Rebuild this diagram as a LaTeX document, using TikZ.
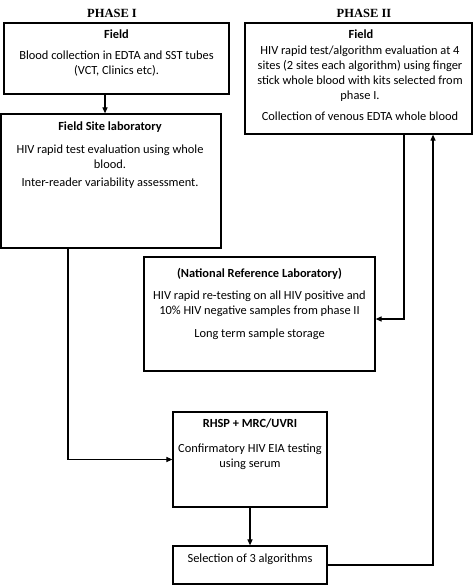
\documentclass[tikz,border=0pt]{standalone}
\usepackage{fontspec}
\setmainfont{Carlito}
\newfontfamily\titlefont{Liberation Serif}
\usetikzlibrary{arrows.meta}
\begin{document}
\begin{tikzpicture}[x=1pt,y=-1pt,
 box/.style={draw, line width=1.2pt, inner sep=0pt, rectangle},
 txt/.style={anchor=base, inner sep=0pt, font=\fontsize{12.4}{15}\selectfont},
 ttl/.style={anchor=base, inner sep=0pt, font=\fontsize{12.4}{15}\selectfont\bfseries},
 phase/.style={anchor=base, inner sep=0pt, font=\titlefont\fontsize{12.5}{15}\selectfont\bfseries},
 conn/.style={line width=1.1pt},
 arr/.style={conn, -{Triangle[length=6pt,width=5pt]}}]
\useasboundingbox (0,0) rectangle (473,585);

\node[phase] (p1) at (112,18) {PHASE I};
\node[phase] (p2) at (364,18) {PHASE II};

% Phase I field
\node[box, minimum width=225pt, minimum height=71pt] (b1) at (116.5,58.5) {};
\node[ttl] (b1t) at (116.5,39) {Field};
\node[txt] (b1a) at (116.5,60) {Blood collection in EDTA and SST tubes};
\node[txt] (b1b) at (116.5,75) {(VCT, Clinics etc).};

% Field site lab
\node[box, minimum width=220pt, minimum height=134pt] (b2) at (111,181) {};
\node[ttl] (b2t) at (110,131) {Field Site laboratory};
\node[txt] (b2a) at (110,154) {HIV rapid test evaluation using whole};
\node[txt] (b2b) at (110,169) {blood.};
\node[txt] (b2c) at (110,186) {Inter-reader variability assessment.};

% Phase II field
\node[box, minimum width=227pt, minimum height=111pt] (b3) at (358.5,78.5) {};
\node[ttl] (b3t) at (361,39) {Field};
\node[txt] (b3a) at (360,55) {HIV rapid test/algorithm evaluation at 4};
\node[txt] (b3b) at (360,70) {sites (2 sites each algorithm) using finger};
\node[txt] (b3c) at (360,85) {stick whole blood with kits selected from};
\node[txt] (b3d) at (360,100) {phase I.};
\node[txt] (b3e) at (360,121) {Collection of venous EDTA whole blood};

% NRL
\node[box, minimum width=231pt, minimum height=114pt] (nrl) at (259.5,314) {};
\node[ttl] (nrlt) at (259.5,277) {(National Reference Laboratory)};
\node[txt] (nrla) at (259.5,299) {HIV rapid re-testing on all HIV positive and};
\node[txt] (nrlb) at (259.5,314) {10\% HIV negative samples from phase II};
\node[txt] (nrlc) at (259.5,337) {Long term sample storage};

% RHSP
\node[box, minimum width=154pt, minimum height=95pt] (rh) at (250,459.5) {};
\node[ttl] (rht) at (250,427) {RHSP + MRC/UVRI};
\node[txt] (rha) at (250,452) {Confirmatory HIV EIA testing};
\node[txt] (rhb) at (250,467) {using serum};

% Selection
\node[box, minimum width=154pt, minimum height=38pt] (sel) at (250,565) {};
\node[txt] (selt) at (250,562) {Selection of 3 algorithms};

% connectors
\coordinate (x1) at (105,0);
\coordinate (x2) at (68,0);
\coordinate (x3) at (404,319);
\coordinate (x5) at (433,0);
\draw[arr] (b1.south -| x1) -- (b2.north -| x1);
\draw[arr] (b2.south -| x2) |- (rh.west);
\draw[arr] (b3.south -| x3) |- (nrl.east |- x3);
\draw[arr] (rh.south) -- (sel.north);
\draw[arr] (sel.east) -| (b3.south -| x5);
\end{tikzpicture}
\end{document}
